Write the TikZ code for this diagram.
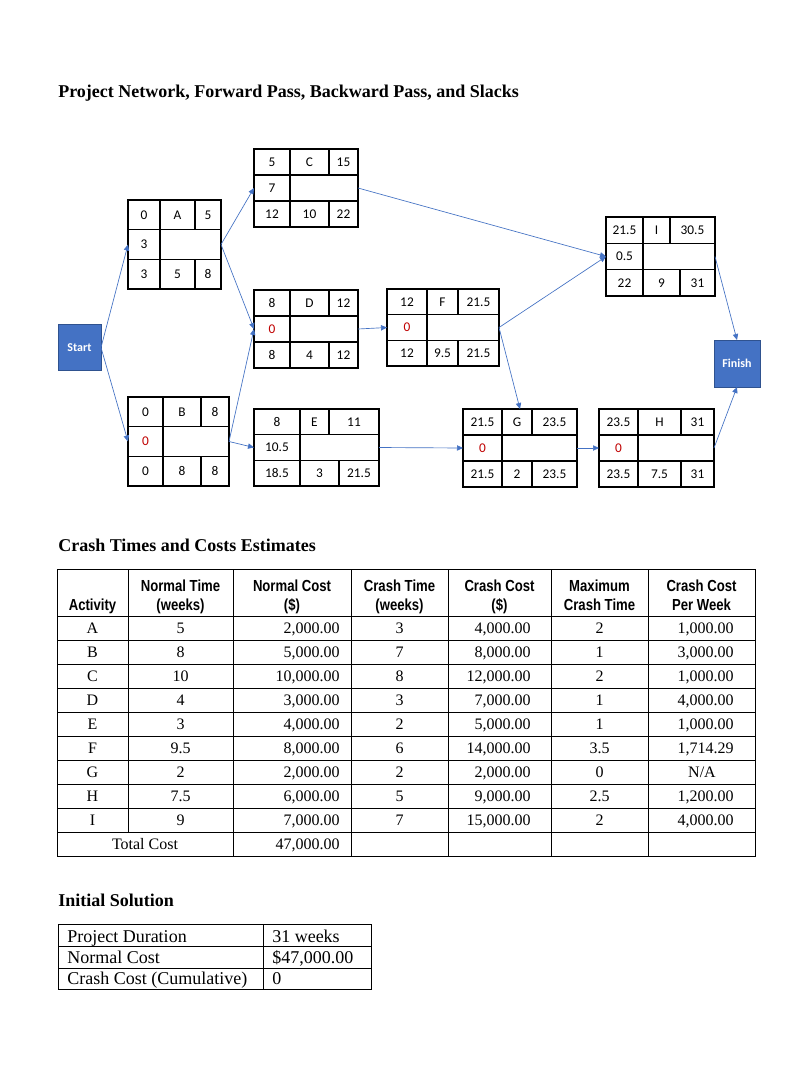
\documentclass[tikz,border=0pt]{standalone}
\usepackage{fontspec}
\setmainfont{Liberation Serif}
\newfontfamily\netfont{Carlito}
\newfontfamily\hdrfont[FakeStretch=0.82]{Liberation Sans}
\usepackage{xcolor}
\usepackage{tikz}
\usetikzlibrary{arrows.meta}
\definecolor{officeblue}{RGB}{68,114,196}
\definecolor{officeedge}{RGB}{47,82,143}
\definecolor{slackred}{RGB}{192,0,0}

\begin{document}
\begin{tikzpicture}[x=0.75pt, y=-0.75pt,
        box/.style={draw, line width=0.9pt, inner sep=0pt, outer sep=0pt},
        cell/.style={font=\netfont\fontsize{10}{12}\selectfont, inner sep=0pt, text height=6.3pt, text depth=0pt},
        term/.style={fill=officeblue, draw=officeedge, line width=0.5pt, text=white, inner sep=0pt, outer sep=0pt,
            font=\netfont\bfseries\fontsize{9}{11}\selectfont},
        link/.style={officeblue, line width=0.5pt, -{Triangle[length=4.5pt, width=4pt]}},
        title/.style={font=\bfseries\fontsize{13.5}{16}\selectfont, anchor=base west, inner sep=0pt},
        hdr/.style={font=\hdrfont\bfseries\fontsize{12}{14}\selectfont, anchor=base, inner sep=0pt},
        num/.style={font=\fontsize{12}{14}\selectfont, anchor=base, inner sep=0pt},
        sol/.style={font=\fontsize{13.5}{16}\selectfont, anchor=base west, inner sep=0pt},
        tline/.style={line width=0.6pt},
    ]
    \fill[white] (0,0) rectangle (807,1072);

    \node[title] (t-net) at (58,97.5) {Project Network, Forward Pass, Backward Pass, and Slacks};

    % activity boxes: name / left / right / top / bottom / column lines / ES / EF / slack / LS / duration / LF / slack colour
    \foreach \act/\bxl/\bxr/\byt/\byb/\bca/\bcb/\bdb/\bes/\bef/\bslk/\bls/\bdu/\blf/\bsc in {
            A/128/221/200/289/160/195/195/0/5/3/3/5/8/black,
            B/128/229/397/486/163/201/201/0/8/0/0/8/8/slackred,
            C/254/358/149/227/290/329/329/5/15/7/12/10/22/black,
            D/254/358/290/368/290/329/329/8/12/0/8/4/12/slackred,
            E/254/379/409/486/300/329/339/8/11/10.5/18.5/3/21.5/black,
            F/387/499/289/366/427/458/458/12/21.5/0/12/9.5/21.5/slackred,
            G/463/577/409/487/502/532/532/21.5/23.5/0/21.5/2/23.5/slackred,
            H/599/714/409/487/638/681/681/23.5/31/0/23.5/7.5/31/slackred,
            I/606/715/217/296/643/670/680/21.5/30.5/0.5/22/9/31/black}{
        \pgfmathsetmacro{\ra}{\byt+(\byb-\byt)/3}
        \pgfmathsetmacro{\rb}{\byt+2*(\byb-\byt)/3}
        \pgfmathsetmacro{\ya}{\byt+(\byb-\byt)/6}
        \pgfmathsetmacro{\ym}{(\byt+\byb)/2}
        \pgfmathsetmacro{\yc}{\byb-(\byb-\byt)/6}
        \node[box, minimum width={(\bxr-\bxl)*0.75pt}, minimum height={(\byb-\byt)*0.75pt}] (\act) at ({(\bxl+\bxr)/2},\ym) {};
        \draw[line width=0.9pt] (\bxl,\ra) -- (\bxr,\ra) (\bxl,\rb) -- (\bxr,\rb)
            (\bca,\byt) -- (\bca,\byb) (\bcb,\byt) -- (\bcb,\ra) (\bdb,\rb) -- (\bdb,\byb);
        \node[cell] (\act-es) at ({(\bxl+\bca)/2},\ya) {\bes};
        \node[cell] (\act-id) at ({(\bca+\bcb)/2},\ya) {\act};
        \node[cell] (\act-ef) at ({(\bcb+\bxr)/2},\ya) {\bef};
        \node[cell, text=\bsc] (\act-sl) at ({(\bxl+\bca)/2},\ym) {\bslk};
        \node[cell] (\act-ls) at ({(\bxl+\bca)/2},\yc) {\bls};
        \node[cell] (\act-du) at ({(\bca+\bdb)/2},\yc) {\bdu};
        \node[cell] (\act-lf) at ({(\bdb+\bxr)/2},\yc) {\blf};
    }

    \node[term, minimum width=32.25pt, minimum height=34.5pt] (start) at (79.5,347.5) {Start};
    \node[term, minimum width=34.5pt, minimum height=35.25pt] (finish) at (737,363.5) {Finish};

    \draw[link] (start.east) -- (A.west);
    \draw[link] (start.east) -- (B.west);
    \draw[link] (A.east) -- (C.west);
    \draw[link] (A.east) -- (D.west);
    \draw[link] (B.east) -- (D.west);
    \draw[link] (B.east) -- (E.west);
    \draw[link] (C.east) -- (I.west);
    \draw[link] (D.east) -- (F.west);
    \draw[link] (F.east) -- (I.west);
    \draw[link] (F.east) -- (G.north);
    \draw[link] (E.east) -- (G.west);
    \draw[link] (G.east) -- (H.west);
    \draw[link] (I.east) -- (finish.north);
    \draw[link] (H.east) -- (finish.south);

    \node[title] (t-crash) at (58,551) {Crash Times and Costs Estimates};

    % crash table
    \draw[tline] (57,569) rectangle (755,856);
    \foreach \k in {0,...,9}
        \draw[tline] (57,{616+24*\k}) -- (755,{616+24*\k});
    \draw[tline] (128,569) -- (128,832);
    \foreach \vx in {233,351,448,551,648}
        \draw[tline] (\vx,569) -- (\vx,856);

    \node[hdr] (h-act) at (92.5,610) {Activity};
    \foreach \hx/\hta/\htb/\hn in {180.5/Normal Time/(weeks)/nt, 292/Normal Cost/(\$)/nc,
            399.5/Crash Time/(weeks)/ct, 499.5/Crash Cost/(\$)/cc,
            599.5/Maximum/Crash Time/mc, 701.5/Crash Cost/Per Week/cw}{
        \node[hdr] (h-\hn-1) at (\hx,591) {\hta};
        \node[hdr] (h-\hn-2) at (\hx,610) {\htb};
    }

    \foreach \ac/\nt/\nc/\ct/\cc/\mc/\cw [count=\r] in {
            A/5/{2,000.00}/3/{4,000.00}/2/{1,000.00},
            B/8/{5,000.00}/7/{8,000.00}/1/{3,000.00},
            C/10/{10,000.00}/8/{12,000.00}/2/{1,000.00},
            D/4/{3,000.00}/3/{7,000.00}/1/{4,000.00},
            E/3/{4,000.00}/2/{5,000.00}/1/{1,000.00},
            F/9.5/{8,000.00}/6/{14,000.00}/3.5/{1,714.29},
            G/2/{2,000.00}/2/{2,000.00}/0/{},
            H/7.5/{6,000.00}/5/{9,000.00}/2.5/{1,200.00},
            I/9/{7,000.00}/7/{15,000.00}/2/{4,000.00}}{
        \pgfmathsetmacro{\yb}{633+24*(\r-1)}
        \node[num] (r\r-act) at (92.5,\yb) {\ac};
        \node[num] (r\r-nt) at (180.5,\yb) {\nt};
        \node[num, anchor=base east] (r\r-nc) at (340,\yb) {\nc};
        \node[num] (r\r-ct) at (399.5,\yb) {\ct};
        \node[num, anchor=base east] (r\r-cc) at (531,\yb) {\cc};
        \node[num] (r\r-mc) at (599.5,\yb) {\mc};
        \node[num, anchor=base east] (r\r-cw) at (734,\yb) {\cw};
    }
    \node[num] (r7-na) at (702,777) {N/A};
    \node[num] (tot-lbl) at (145,849) {Total Cost};
    \node[num, anchor=base east] (tot-val) at (340,849) {47,000.00};

    \node[title] (t-sol) at (58,906.5) {Initial Solution};

    % initial solution table
    \draw[tline] (58,924) rectangle (371,989);
    \draw[tline] (263,924) -- (263,989);
    \draw[tline] (58,946) -- (371,946) (58,968) -- (371,968);
    \node[sol] (s-pd) at (67,942.5) {Project Duration};
    \node[sol] (s-pd-v) at (272,942.5) {31 weeks};
    \node[sol] (s-nc) at (67,963.5) {Normal Cost};
    \node[sol] (s-nc-v) at (272,963.5) {\$47,000.00};
    \node[sol] (s-cc) at (67,984.5) {Crash Cost (Cumulative)};
    \node[sol] (s-cc-v) at (272,984.5) {0};
\end{tikzpicture}
\end{document}
